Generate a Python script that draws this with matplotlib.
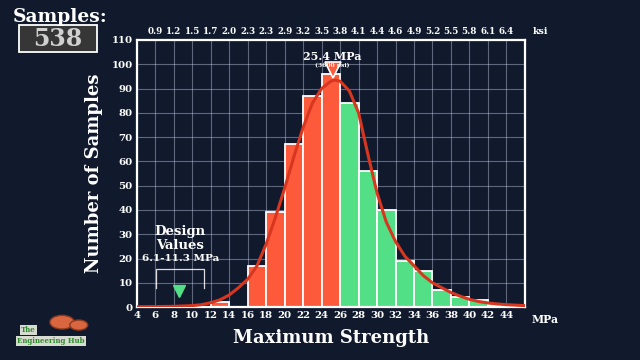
import matplotlib
matplotlib.use("Agg")
import matplotlib.pyplot as plt
from matplotlib.patches import Rectangle, Circle

# ---------------- data ----------------
bin_left = [12, 16, 18, 20, 22, 24, 26, 28, 30, 32, 34, 36, 38, 40, 42, 44]
counts   = [2, 17, 39, 67, 87, 96, 84, 56, 40, 19, 15, 7, 4, 3, 1, 1]
bar_group = ["low"] * 6 + ["high"] * 10

curve_x = [4, 6, 8, 10, 11, 12, 13, 14, 15, 16, 17, 18, 19, 20, 21, 22, 23, 24,
           25, 25.4, 26, 27, 28, 29, 30, 31, 32, 33, 34, 35, 36, 37, 38, 39, 40,
           41, 42, 43, 44, 45, 46]
curve_y = [0.1, 0.2, 0.3, 0.6, 1.0, 1.8, 3.0, 5.0, 8.0, 11.5, 17, 26, 37, 49,
           62, 74, 84, 90, 93, 93.5, 93, 89, 80, 63, 47, 35, 27, 21, 17, 13,
           10, 8, 6, 4.5, 3.2, 2.3, 1.7, 1.3, 1.0, 0.8, 0.6]

mpa_ticks = list(range(4, 46, 2))
ksi_ticks = list(range(6, 46, 2))
ksi_labels = ["0.9", "1.2", "1.5", "1.7", "2.0", "2.3", "2.3", "2.9", "3.2", "3.5",
              "3.8", "4.1", "4.4", "4.6", "4.9", "5.2", "5.5", "5.8", "6.1", "6.4"]
y_ticks = list(range(0, 111, 10))

sample_count = "538"
peak_label = "25.4 MPa"
peak_sub = "(3600 psi)"
design_lo, design_hi = 6.1, 11.3
design_label = "6.1-11.3 MPa"

# ---------------- style ----------------
BG = "#111a2d"
ORANGE = "#fc5a3b"
GREEN = "#52df86"
RED = "#d8361f"
FONT = "DejaVu Serif"

fig = plt.figure(figsize=(6.4, 3.6), dpi=100, facecolor=BG)
ax = fig.add_axes([0.214, 0.147, 0.606, 0.742], facecolor=BG)

ax.set_xlim(4, 46)
ax.set_ylim(0, 110)

ax.set_xticks(list(range(4, 47, 2)))
ax.set_xticklabels([str(t) for t in mpa_ticks] + [""])
ax.set_yticks(y_ticks)
ax.set_yticklabels([str(t) for t in y_ticks])
ax.grid(True, color="#dde6ff", alpha=0.38, linewidth=0.8)
ax.set_axisbelow(True)

colors = [ORANGE if g == "low" else GREEN for g in bar_group]
ax.bar(bin_left, counts, width=2, align="edge", color=colors,
       edgecolor="white", linewidth=1.3, zorder=2)

ax.plot(curve_x, curve_y, color=RED, linewidth=2.2, zorder=3,
        solid_joinstyle="round", solid_capstyle="round")

for s in ax.spines.values():
    s.set_color("white")
    s.set_linewidth(1.6)

ax.tick_params(length=0, colors="white", labelsize=7.4, pad=3)
for lab in ax.get_xticklabels() + ax.get_yticklabels():
    lab.set_fontfamily(FONT)
    lab.set_fontweight("bold")

# top ksi axis
axt = ax.twiny()
axt.set_xlim(ax.get_xlim())
axt.set_xticks(ksi_ticks)
axt.set_xticklabels(ksi_labels)
axt.tick_params(length=0, colors="white", labelsize=6.3, pad=3)
for lab in axt.get_xticklabels():
    lab.set_fontfamily(FONT)
    lab.set_fontweight("bold")
for s in axt.spines.values():
    s.set_visible(False)

ax.text(48.2, -3.0, "MPa", color="white", fontsize=7.8, fontweight="bold",
        family=FONT, ha="center", va="top", clip_on=False)
ax.text(47.7, 111.5, "ksi", color="white", fontsize=6.8, fontweight="bold",
        family=FONT, ha="center", va="bottom", clip_on=False)

ax.set_xlabel("Maximum Strength", color="white", fontsize=13, fontweight="bold",
              family=FONT, labelpad=6)
ax.set_ylabel("Number of Samples", color="white", fontsize=13, fontweight="bold",
              family=FONT, labelpad=6)

# peak marker
ax.plot([25.2], [97.5], marker="v", markersize=11, color=ORANGE,
        markeredgecolor="white", markeredgewidth=1.2, zorder=5, clip_on=False)
ax.text(25.2, 103.2, peak_label, color="white", fontsize=8, fontweight="bold",
        family=FONT, ha="center", va="center", zorder=6)
ax.text(25.2, 99.6, peak_sub, color="white", fontsize=4.3, fontweight="bold",
        family=FONT, ha="center", va="center", zorder=6)

# design values annotation
mid = (design_lo + design_hi) / 2
ax.text(mid, 31, "Design", color="white", fontsize=9.5, fontweight="bold",
        family=FONT, ha="center", va="center", zorder=6)
ax.text(mid, 25.3, "Values", color="white", fontsize=9.5, fontweight="bold",
        family=FONT, ha="center", va="center", zorder=6)
ax.text(mid, 20, design_label, color="white", fontsize=7.5, fontweight="bold",
        family=FONT, ha="center", va="center", zorder=6)
ax.plot([design_lo, design_lo, design_hi, design_hi], [8, 15.5, 15.5, 8],
        color="white", linewidth=0.9, alpha=0.85, zorder=6)
ax.plot([8.6], [6.8], marker="v", markersize=9, color=GREEN,
        markeredgecolor=GREEN, zorder=6)

# samples counter
fig.text(0.094, 0.953, "Samples:", color="white", fontsize=13.5, fontweight="bold",
         family=FONT, ha="center", va="center")
fig.patches.append(Rectangle((0.029, 0.855), 0.122, 0.075, transform=fig.transFigure,
                             facecolor="#363636", edgecolor="white", linewidth=1.3))
fig.text(0.090, 0.891, sample_count, color="#d0d0d0", fontsize=17, fontweight="bold",
         family=FONT, ha="center", va="center")

# logo
fig.patches.append(Circle((0.097, 0.105), 0.019, transform=fig.transFigure,
                          facecolor="#d9663f", edgecolor="#8a3a20", linewidth=1))
fig.patches.append(Circle((0.123, 0.097), 0.014, transform=fig.transFigure,
                          facecolor="#d9663f", edgecolor="#8a3a20", linewidth=1))
fig.text(0.033, 0.083, "The", color="#2f8c2f", fontsize=5, fontweight="bold",
         family=FONT, ha="left", va="center",
         bbox=dict(boxstyle="square,pad=0.15", facecolor="#d8dcd0", edgecolor="none"))
fig.text(0.027, 0.053, "Engineering Hub", color="#2f8c2f", fontsize=5, fontweight="bold",
         family=FONT, ha="left", va="center",
         bbox=dict(boxstyle="square,pad=0.15", facecolor="#d8dcd0", edgecolor="none"))

fig.savefig("out.png", dpi=100, facecolor=BG)
